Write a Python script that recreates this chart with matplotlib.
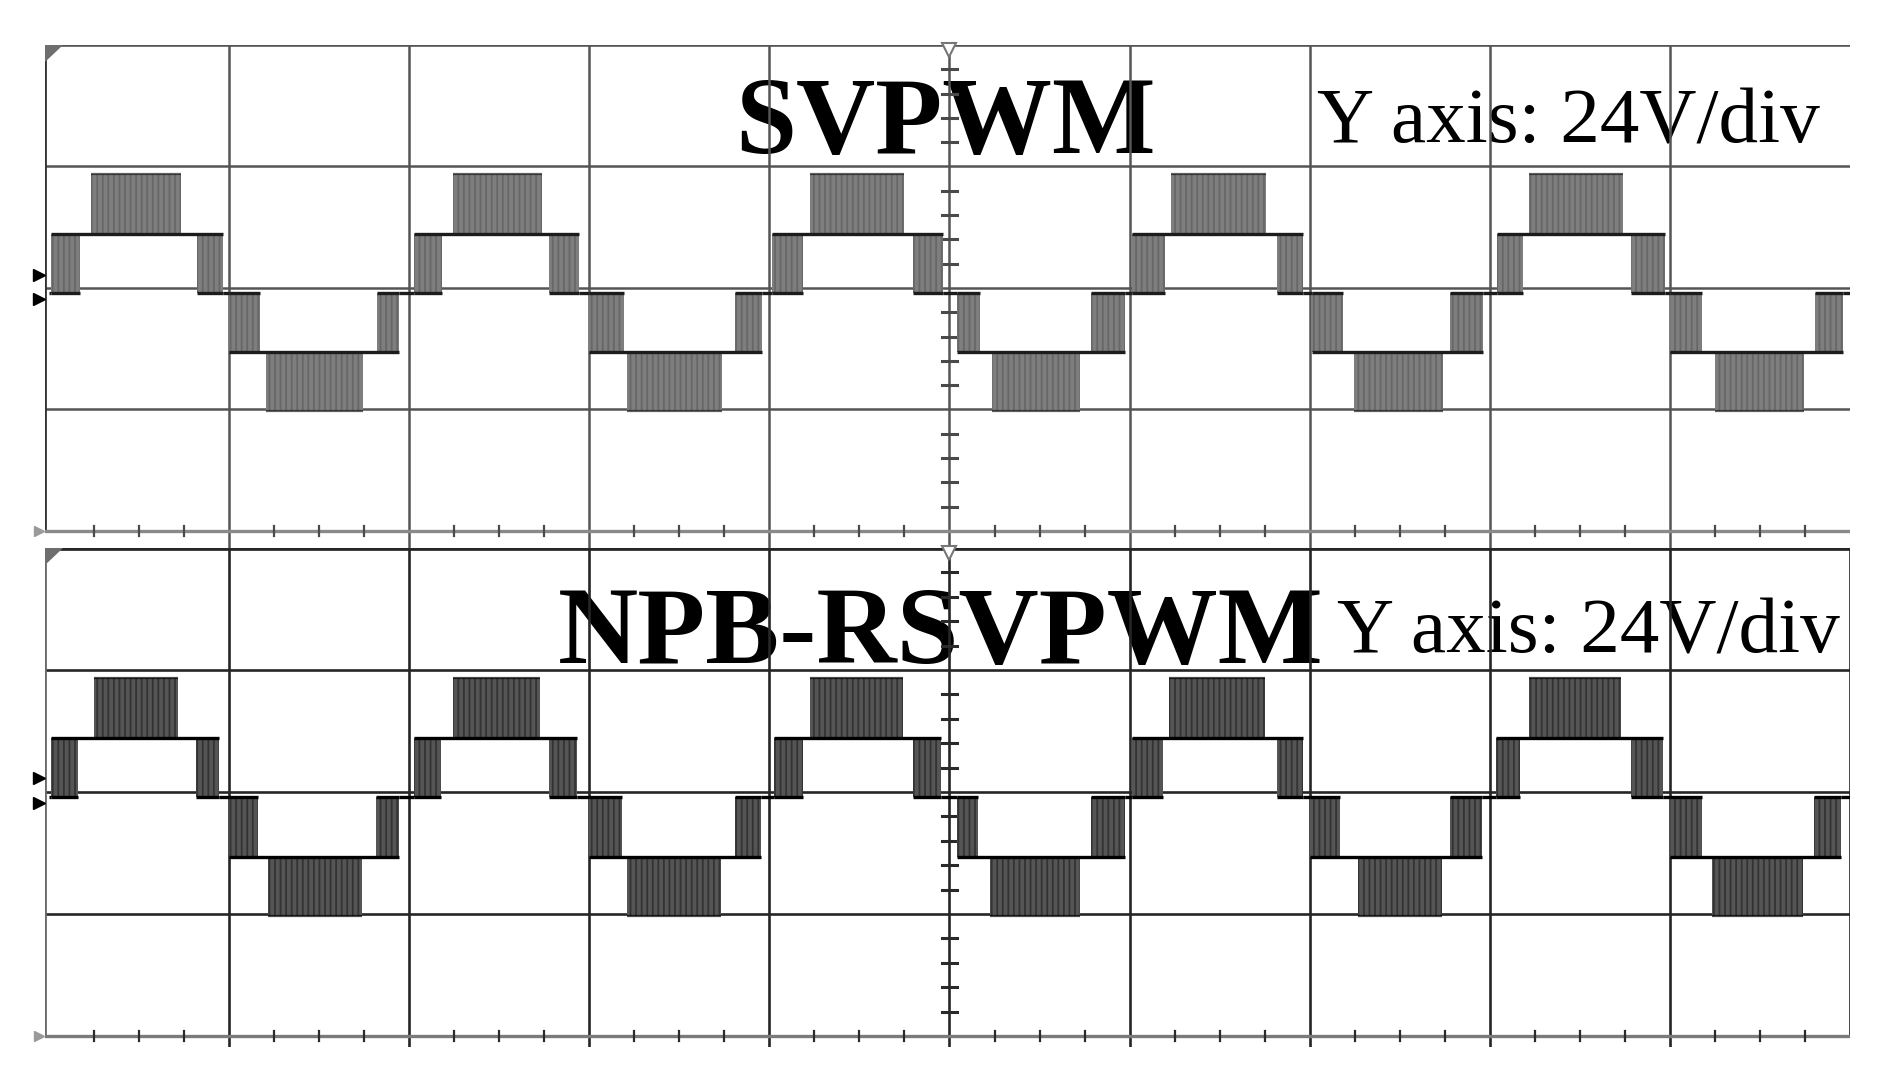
import matplotlib
matplotlib.use("Agg")
import matplotlib.pyplot as plt
from matplotlib.patches import Rectangle, Polygon
import numpy as np

W, H, DPI = 1897, 1087, 100

# ---------------- data (time in divisions, Y axis 24 V/div) ----------------
V_PER_DIV = 24
STEP_V = 11.7                 # one inverter level step (V)
OFFSET_DIV = [1.96, 1.957]    # zero level of each trace (div)
CH_MARKERS_DIV = [[2.107, 1.909], [2.115, 1.910]]
TITLES = ["SVPWM", "NPB-RSVPWM"]
SCALE_LABEL = "Y axis: 24V/div"

# each half cycle: [start, end of first 0/1 PWM, start of peak PWM,
#                   end of peak PWM, start of last 0/1 PWM, end]
SVPWM_POS = [
    [0.012, 0.175, 0.236, 0.735, 0.824, 0.968],
    [2.031, 2.184, 2.242, 2.739, 2.780, 2.942],
    [4.017, 4.187, 4.226, 4.748, 4.797, 4.962],
    [6.012, 6.196, 6.228, 6.758, 6.817, 6.962],
    [8.041, 8.183, 8.216, 8.738, 8.782, 8.968],
]
SVPWM_NEG = [
    [1.002, 1.174, 1.207, 1.745, 1.823, 1.945],
    [2.998, 3.194, 3.210, 3.738, 3.810, 3.959],
    [5.039, 5.169, 5.236, 5.724, 5.783, 5.972],
    [7.013, 7.184, 7.243, 7.741, 7.779, 7.963],
    [9.001, 9.174, 9.246, 9.744, 9.803, 9.959],
]
NPB_POS = [
    [0.012, 0.164, 0.253, 0.718, 0.816, 0.946],
    [2.031, 2.177, 2.242, 2.728, 2.780, 2.933],
    [4.024, 4.187, 4.225, 4.740, 4.799, 4.952],
    [6.012, 6.185, 6.218, 6.751, 6.817, 6.961],
    [8.034, 8.165, 8.215, 8.729, 8.781, 8.958],
]
NPB_NEG = [
    [1.002, 1.164, 1.216, 1.738, 1.816, 1.945],
    [2.998, 3.183, 3.209, 3.731, 3.812, 3.952],
    [5.039, 5.160, 5.226, 5.726, 5.783, 5.972],
    [7.003, 7.167, 7.265, 7.734, 7.779, 7.953],
    [9.001, 9.174, 9.230, 9.737, 9.796, 9.950],
]

plt.rcParams["hatch.linewidth"] = 1.3

fig = plt.figure(figsize=(W / DPI, H / DPI), dpi=DPI)
fig.patch.set_facecolor("white")

PX = 180.2   # pixels per division (layout)


def make_axes(top_px, bottom_px, ybot):
    left_px = 45.0
    right_px = 48.5 + 10 * PX
    ax = fig.add_axes([left_px / W, 1 - bottom_px / H,
                       (right_px - left_px) / W, (bottom_px - top_px) / H])
    ax.set_xlim(-(48.5 - left_px) / PX, 10)
    ax.set_ylim(ybot, 4)
    ax.axis("off")
    return ax


ax1 = make_axes(45, 548, -0.14)
ax2 = make_axes(548, 1047, -0.09)

styles = [
    dict(grid="#555555", glw=1.8, top="#555555", toplw=2.6, axis="#8a8a8a", tick="#4a4a4a",
         face="#7e7e7e", hatch="#676767", line="#1c1c1c", border="#333333", right=False),
    dict(grid="#262626", glw=1.9, top="#262626", toplw=3.4, axis="#7a7a7a", tick="#2a2a2a",
         face="#555555", hatch="#333333", line="#000000", border="#6a6a6a", right=True),
]


def draw_panel(ax, pos, neg, off, st, ybot, markers):
    x0 = ax.get_xlim()[0]
    # grid
    for k in range(1, 10):
        ax.plot([k, k], [ybot, 4], color=st["grid"], lw=st["glw"], zorder=2,
                solid_capstyle="butt")
    for j in (1, 2, 3):
        ax.plot([x0, 10], [j, j], color=st["grid"], lw=st["glw"], zorder=2)
    ax.plot([x0, 10], [4, 4], color=st["top"], lw=st["toplw"], zorder=2)
    ax.plot([x0, x0], [0, 4], color=st["border"], lw=2.0, zorder=2)
    if st["right"]:
        ax.plot([10, 10], [0, 4], color=st["grid"], lw=st["glw"], zorder=2)
    # horizontal axis with minor ticks
    ax.plot([x0, 10], [0, 0], color=st["axis"], lw=2.4, zorder=2)
    for t in np.arange(0.25, 10, 0.25):
        if abs(t - round(t)) > 1e-6:
            ax.plot([t, t], [-0.04, 0.04], color=st["tick"], lw=1.6, zorder=2)
    # centre vertical axis with minor ticks
    for y in np.arange(0.2, 4, 0.2):
        if abs(y - round(y)) > 1e-6:
            ax.plot([4.96, 5.04], [y, y], color=st["tick"], lw=2.2, zorder=2)
    # markers
    ax.plot([5], [3.955], marker="v", ms=10, mfc="white", mec="#777777",
            mew=1.5, zorder=5, clip_on=False)
    ax.add_patch(Polygon([[x0, 4], [x0 + 0.1, 4], [x0, 3.86]], closed=True,
                         facecolor="#6e6e6e", edgecolor="none", zorder=5))
    ax.plot([-0.055], [0], marker=">", ms=7, color="#9a9a9a", zorder=5,
            clip_on=False)
    for m in markers:
        ax.plot([-0.05], [m], marker=">", ms=8, color="black", zorder=5,
                clip_on=False)

    # waveform
    s = STEP_V / V_PER_DIV
    lv = lambda k: off + k * s
    halves = sorted([(h, 1) for h in pos] + [(h, -1) for h in neg])
    prev_end = 0.0
    for (a, b, c, d, e, f), sg in halves:
        for (xa, xb, k0, k1) in [(a, b, 0, sg), (c, d, sg, 2 * sg), (e, f, 0, sg)]:
            y0, y1 = sorted([lv(k0), lv(k1)])
            ax.add_patch(Rectangle((xa, y0), xb - xa, y1 - y0,
                                   facecolor=st["face"], edgecolor=st["hatch"],
                                   lw=0, hatch="|||", zorder=3))
        ax.hlines([lv(sg)], a, f, color=st["line"], lw=2.4, zorder=4)
        ax.hlines([lv(2 * sg)], c, d, color=st["line"], lw=1.6, zorder=4, alpha=0.7)
        ax.hlines([lv(0), lv(0)], [a, e], [b, f], color=st["line"], lw=2.4, zorder=4)
        ax.hlines([lv(0)], prev_end, a, color=st["line"], lw=2.4, zorder=4)
        prev_end = f
    ax.hlines([lv(0)], prev_end, 10, color=st["line"], lw=2.4, zorder=4)


draw_panel(ax1, SVPWM_POS, SVPWM_NEG, OFFSET_DIV[0], styles[0], -0.14, CH_MARKERS_DIV[0])
draw_panel(ax2, NPB_POS, NPB_NEG, OFFSET_DIV[1], styles[1], -0.09, CH_MARKERS_DIV[1])

# titles (drawn under the graticule like in the screenshot)
serif = ["Liberation Serif", "DejaVu Serif"]
ax1.text(735 / W, 1 - 153 / H, TITLES[0], transform=fig.transFigure,
         fontsize=79, fontweight="bold", family=serif, va="baseline", ha="left",
         zorder=1)
ax1.text(1317 / W, 1 - 142 / H, SCALE_LABEL, transform=fig.transFigure,
         fontsize=57, family=serif, va="baseline", ha="left", zorder=1)
ax2.text(558 / W, 1 - 663 / H, TITLES[1], transform=fig.transFigure,
         fontsize=80, fontweight="bold", family=serif, va="baseline", ha="left",
         zorder=1)
ax2.text(1337 / W, 1 - 652 / H, SCALE_LABEL, transform=fig.transFigure,
         fontsize=57, family=serif, va="baseline", ha="left", zorder=1)

fig.savefig("out.png", dpi=DPI, facecolor="white")
